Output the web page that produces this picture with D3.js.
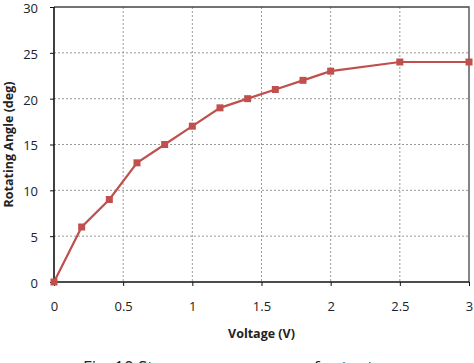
<html>
<head>
  <title>Rotating angle vs voltage</title>
  <script src="https://d3js.org/d3.v7.min.js"></script>
  <style>
    body { margin: 0; background: #fff; }
    text { font-family: "Open Sans", "Liberation Sans", sans-serif; fill: #222; }
    .grid line { stroke: #999; stroke-dasharray: 2,2; stroke-width: 1; }
  </style>
</head>
<body>
  <svg id="screen"></svg>
  <script>
    // data
    const voltage = [0, 0.2, 0.4, 0.6, 0.8, 1.0, 1.2, 1.4, 1.6, 1.8, 2.0, 2.5, 3.0]
    const angle = [0, 6, 9, 13, 15, 17, 19, 20, 21, 22, 23, 24, 24]
    const xTicks = [0, 0.5, 1, 1.5, 2, 2.5, 3]
    const yTicks = [0, 5, 10, 15, 20, 25, 30]

    let svg = {width: 474, height: 363}
    let margin = {top: 7, bottom: 81, left: 54, right: 5}
    let w = svg.width - margin.left - margin.right
    let h = svg.height - margin.top - margin.bottom

    let frame = d3.select('#screen')
      .attr('width', svg.width)
      .attr('height', svg.height)

    let g = frame.append('g')
      .attr('transform', `translate(${margin.left},${margin.top})`)

    let x = d3.scaleLinear().domain([0, 3]).range([0, w])
    let y = d3.scaleLinear().domain([0, 30]).range([h, 0])

    // dashed grid
    let grid = g.append('g').attr('class', 'grid')
    grid.selectAll('.vx').data(xTicks.slice(1, -1))
      .enter().append('line')
      .attr('x1', d => x(d)).attr('x2', d => x(d))
      .attr('y1', 0).attr('y2', h)
    grid.selectAll('.hy').data(yTicks.slice(1, -1))
      .enter().append('line')
      .attr('x1', 0).attr('x2', w)
      .attr('y1', d => y(d)).attr('y2', d => y(d))

    // top and right border
    g.append('path')
      .attr('d', `M0,${y(30)}H${x(3)}V${h}`)
      .attr('fill', 'none')
      .attr('stroke', '#444')
      .attr('stroke-width', 1.3)

    // axes
    let xAxis = g.append('g')
      .attr('transform', `translate(0,${h})`)
      .call(d3.axisBottom(x).tickValues(xTicks).tickSize(4).tickPadding(16).tickFormat(d3.format('')))
    let yAxis = g.append('g')
      .call(d3.axisLeft(y).tickValues(yTicks).tickSize(4).tickPadding(12))
    for (let a of [xAxis, yAxis]) {
      a.select('.domain').attr('stroke', '#111').attr('stroke-width', 1.6)
      a.selectAll('.tick line').attr('stroke', '#111')
      a.selectAll('.tick text').attr('font-size', 13).attr('fill', '#222')
        .attr('font-family', '"Open Sans", sans-serif')
    }
    yAxis.selectAll('.tick text').attr('dy', '0.42em')
    xAxis.select('.domain').attr('d', `M0,0H${w}`)
    yAxis.select('.domain').attr('d', `M0,${h}V0`)

    // line and markers
    let pts = voltage.map((v, i) => [v, angle[i]])
    g.append('path')
      .datum(pts)
      .attr('fill', 'none')
      .attr('stroke', '#c0504d')
      .attr('stroke-width', 2.2)
      .attr('d', d3.line().x(d => x(d[0])).y(d => y(d[1])))
    g.selectAll('.pt').data(pts)
      .enter().append('rect')
      .attr('x', d => x(d[0]) - 3.5)
      .attr('y', d => y(d[1]) - 3.5)
      .attr('width', 7).attr('height', 7)
      .attr('fill', '#c0504d')

    // titles
    g.append('text')
      .attr('x', w / 2).attr('y', h + 56)
      .attr('text-anchor', 'middle')
      .attr('font-size', 12.5).attr('font-weight', 'bold')
      .text('Voltage (V)')
    frame.append('text')
      .attr('transform', `translate(13,${margin.top + h / 2}) rotate(-90)`)
      .attr('text-anchor', 'middle')
      .attr('font-size', 12.5).attr('font-weight', 'bold')
      .text('Rotating Angle (deg)')

    // caption, only its top shows at the bottom edge
    frame.append('text')
      .attr('x', 83).attr('y', 373)
      .attr('font-family', '"Liberation Serif", serif')
      .attr('font-size', 17)
      .text('Fig. 10 Step response curve of actuator')
  </script>
</body>
</html>
